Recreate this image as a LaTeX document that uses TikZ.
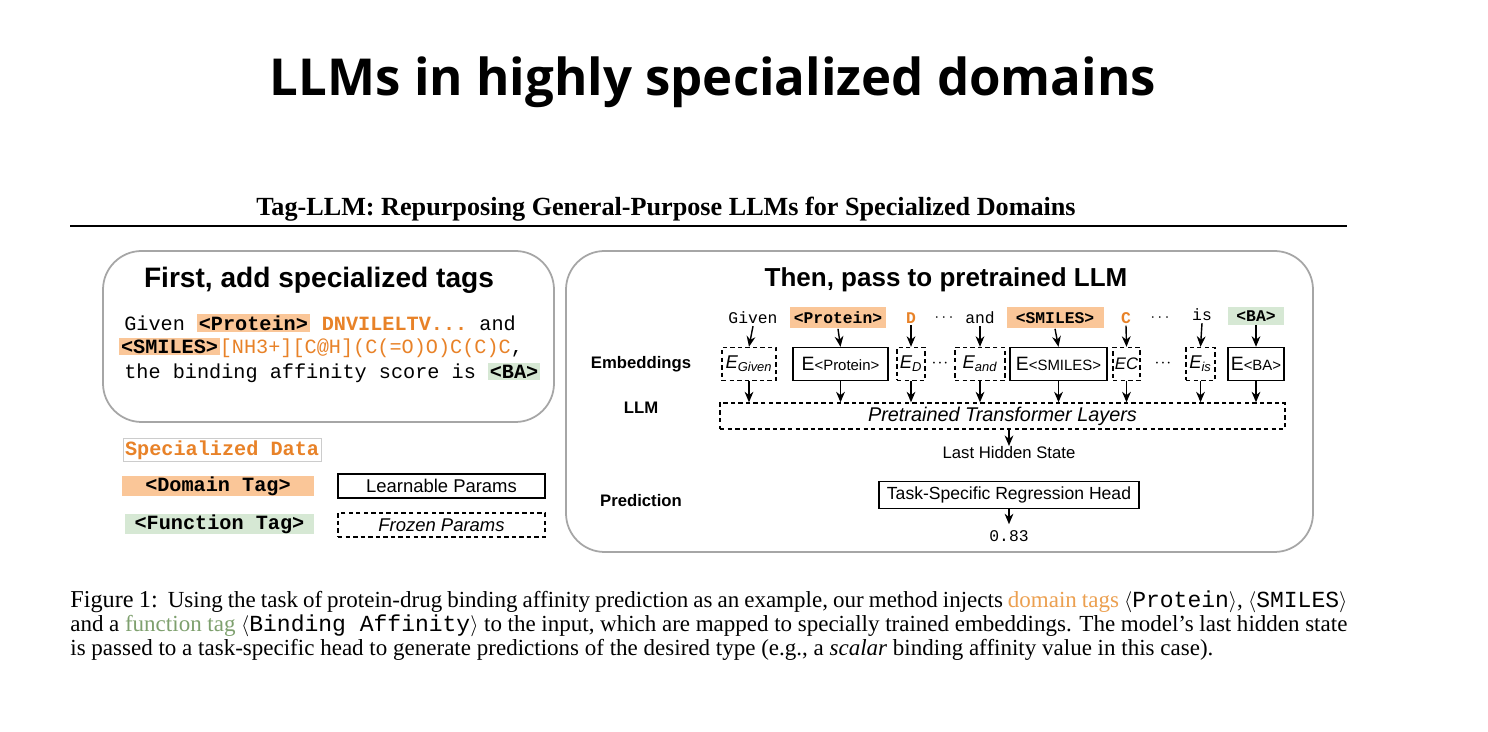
\documentclass[tikz,border=0pt]{standalone}
\usepackage{fontspec}
\setmainfont{Liberation Serif}
\setsansfont{Liberation Sans}
\setmonofont{Liberation Mono}
\newfontfamily\titlefont{Open Sans}
\usetikzlibrary{arrows.meta}
\definecolor{tagor}{RGB}{250,198,152}
\definecolor{txor}{RGB}{232,130,40}
\definecolor{taggr}{RGB}{214,232,212}
\definecolor{capor}{RGB}{236,160,80}
\definecolor{capgr}{RGB}{126,160,110}
\newcommand{\otag}[1]{{\setlength\fboxsep{1pt}\colorbox{tagor}{\textbf{#1}}}}
\newcommand{\gtag}[1]{{\setlength\fboxsep{1pt}\colorbox{taggr}{\textbf{#1}}}}
\tikzset{
  panel/.style={draw=black!35, line width=1pt, rounded corners=22pt},
  learn/.style={draw, line width=0.8pt, inner sep=0pt, font=\sffamily\fontsize{10.5}{12}\selectfont},
  frozen/.style={draw, dash pattern=on 2.5pt off 1.8pt, line width=0.8pt, inner sep=0pt, font=\sffamily\fontsize{10.5}{12}\selectfont\itshape},
  tok/.style={font=\ttfamily\fontsize{9.3}{11}\selectfont, inner sep=1pt},
  arr/.style={-{Stealth[length=6pt,width=5pt]}, line width=0.8pt},
  rowlab/.style={font=\sffamily\bfseries\fontsize{9.5}{11}\selectfont},
  mono/.style={font=\ttfamily\fontsize{11.5}{14}\selectfont, anchor=west, inner sep=0pt}
}
\begin{document}
\begin{tikzpicture}[x=0.02cm,y=-0.02cm]
\useasboundingbox[fill=white] (0,0) rectangle (1488,732);
\node[font=\titlefont\bfseries\fontsize{29}{32}\selectfont] (title) at (713,82) {LLMs in highly specialized domains};
\node[font=\bfseries\fontsize{14.9}{17}\selectfont] (hdr) at (666,209) {Tag-LLM: Repurposing General-Purpose LLMs for Specialized Domains};
\coordinate (hl) at (70,226); \coordinate (hr) at (1347,226);
\draw[line width=1pt] (hl) -- (hr);
% left panel
\draw[panel] (103,251) rectangle (554,422);
\node[font=\sffamily\bfseries\fontsize{16}{18}\selectfont] (lt) at (319,280) {First, add specialized tags};
\node[mono] (l1) at (124,323) {Given \otag{<Protein>} \textcolor{txor}{\textbf{DNVILELTV...}} and};
\node[mono] (l2) at (119,348) {\otag{<SMILES>}\textcolor{txor}{[NH3+][C@H](C(=O)O)C(C)C},};
\node[mono] (l3) at (124,373) {the binding affinity score is \gtag{<BA>}};
% legend
\node[draw=black!20, line width=0.4pt, inner sep=1pt, anchor=west, font=\ttfamily\bfseries\fontsize{11.5}{13}\selectfont, text=txor] (sd) at (123,450) {Specialized Data};
\node[fill=tagor, minimum width=192*0.02cm, minimum height=20*0.02cm, inner sep=0pt, font=\ttfamily\bfseries\fontsize{11.5}{13}\selectfont] (dt) at (218,486) {<Domain Tag>};
\node[fill=taggr, minimum width=189*0.02cm, minimum height=20*0.02cm, inner sep=0pt, font=\ttfamily\bfseries\fontsize{11.5}{13}\selectfont] (ft) at (219.5,524) {<Function Tag>};
\node[learn, minimum width=207*0.02cm, minimum height=24*0.02cm] (lp) at (441.5,486) {Learnable Params};
\node[frozen, minimum width=207*0.02cm, minimum height=24*0.02cm] (fp) at (441.5,525) {Frozen Params};
% right panel
\draw[panel] (566,251) rectangle (1313,552);
\node[font=\sffamily\bfseries\fontsize{14.8}{17}\selectfont] (rt) at (946,280) {Then, pass to pretrained LLM};
\node[rowlab] (le) at (641,364) {Embeddings};
\node[rowlab] (ll) at (641,408) {LLM};
\node[rowlab] (lpred) at (641,501) {Prediction};
% tokens
\node[tok] (t1) at (753,318) {Given};
\node[tok, fill=tagor, font=\ttfamily\bfseries\fontsize{9.3}{11}\selectfont, minimum width=96*0.02cm, minimum height=21*0.02cm] (t2) at (838,318) {<Protein>};
\node[tok, text=txor, font=\ttfamily\bfseries\fontsize{9.3}{11}\selectfont] (t3) at (911,318) {D};
\node[tok] (dots1) at (944,318) {$\cdots$};
\node[tok] (t4) at (980,318) {and};
\node[tok, fill=tagor, font=\ttfamily\bfseries\fontsize{9.3}{11}\selectfont, minimum width=97*0.02cm, minimum height=21*0.02cm] (t5) at (1055,318) {<SMILES>};
\node[tok, text=txor, font=\ttfamily\bfseries\fontsize{9.3}{11}\selectfont] (t6) at (1126,318) {C};
\node[tok] (dots2) at (1160,318) {$\cdots$};
\node[tok] (t7) at (1202,315) {is};
\node[tok, fill=taggr, font=\ttfamily\bfseries\fontsize{9.3}{11}\selectfont, minimum width=56*0.02cm, minimum height=18*0.02cm] (t8) at (1256,316) {<BA>};
% embeddings
\tikzset{emb/.style={minimum height=33*0.02cm, font=\sffamily\fontsize{11}{13}\selectfont},
  embi/.style={emb, font=\sffamily\itshape\fontsize{10.5}{13}\selectfont}}
\node[frozen, embi, minimum width=54*0.02cm] (e1) at (749,364) {E\textsubscript{Given}};
\node[learn, emb, minimum width=95*0.02cm] (e2) at (840.5,364) {E{\fontsize{8.5}{9}\selectfont<Protein>}};
\node[frozen, embi, minimum width=28*0.02cm] (e3) at (911,364) {E\textsubscript{D}};
\node[font=\bfseries] (d1) at (940,364) {$\cdot\!\cdot\!\cdot$};
\node[frozen, embi, minimum width=50*0.02cm] (e4) at (980,364) {E\textsubscript{and}};
\node[learn, emb, minimum width=97*0.02cm] (e5) at (1058.5,364) {E{\fontsize{8.5}{9}\selectfont<SMILES>}};
\node[frozen, embi, font=\sffamily\itshape\fontsize{9.5}{13}\selectfont, minimum width=27*0.02cm] (e6) at (1126.5,364) {EC};
\node[font=\bfseries] (d2) at (1163,364) {$\cdot\!\cdot\!\cdot$};
\node[frozen, embi, minimum width=29*0.02cm] (e7) at (1200.5,364) {E\textsubscript{is}};
\node[learn, emb, minimum width=56*0.02cm] (e8) at (1256,364) {E{\fontsize{8.5}{9}\selectfont<BA>}};
\node[frozen, font=\sffamily\itshape\fontsize{11.3}{13}\selectfont, minimum width=565*0.02cm, minimum height=26*0.02cm] (tr) at (1002.5,416) {Pretrained Transformer Layers};
\foreach \t/\e in {t1/e1,t2/e2,t3/e3,t4/e4,t5/e5,t6/e6,t7/e7,t8/e8}{
  \draw[arr] (\t.south) -- (\e.north);
  \draw[arr] (\e.south) -- (\e.south |- tr.north);
}
\node[font=\sffamily\fontsize{9.5}{11}\selectfont] (lhs) at (1009,453) {Last Hidden State};
\node[learn, font=\sffamily\fontsize{10}{12}\selectfont, minimum width=260*0.02cm, minimum height=27*0.02cm] (head) at (1009,495) {Task-Specific Regression Head};
\node[font=\ttfamily\fontsize{9.3}{11}\selectfont] (out) at (1009,536) {0.83};
\draw[arr] (tr.south -| head.north) -- (1009,446);
\draw[arr] (head.south) -- (out.north);
% caption
\node[anchor=north west, inner sep=0pt, text width=1277*0.02cm, align=justify, font=\fontsize{13.1}{13.9}\selectfont] (cap) at (70,590) {{\fontsize{13.8}{14}\selectfont Figure 1:}\ \ Using the task of protein-drug binding affinity prediction as an example, our method injects \textcolor{capor}{domain tags} $\langle$\texttt{Protein}$\rangle$, $\langle$\texttt{SMILES}$\rangle$ and a \textcolor{capgr}{function tag} $\langle$\texttt{Binding Affinity}$\rangle$ to the input, which are mapped to specially trained embeddings. The model's last hidden state is passed to a task-specific head to generate predictions of the desired type (e.g., a \textit{scalar} binding affinity value in this case).};
\end{tikzpicture}
\end{document}
